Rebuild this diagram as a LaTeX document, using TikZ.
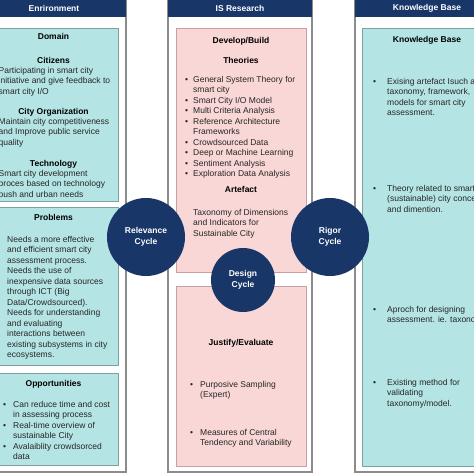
\documentclass[tikz,border=0pt]{standalone}
\usepackage{fontspec}
\setmainfont{Liberation Sans}
\usetikzlibrary{positioning}
\definecolor{navyblue}{RGB}{24, 54, 104}
\definecolor{tealfill}{RGB}{181, 228, 228}
\definecolor{tealline}{RGB}{125, 160, 160}
\definecolor{pinkfill}{RGB}{249, 215, 214}
\definecolor{pinkline}{RGB}{200, 160, 160}
\definecolor{colline}{RGB}{140, 140, 140}
\newcommand{\bulletmark}[1][8pt]{\makebox[#1][l]{\textbullet}}
\newcommand{\bulletgap}[1][8pt]{\hspace*{#1}}

\begin{document}
\begin{tikzpicture}[x=1pt, y=-1pt, font=\fontsize{8.5}{10.5}\selectfont,
  column/.style={draw=colline, line width=1.3pt, rectangle, minimum width=144pt, minimum height=472pt, inner sep=0pt},
  header/.style={fill=navyblue, text=white, font=\fontsize{8.5}{10.5}\selectfont\bfseries, minimum width=144pt, minimum height=17pt, inner sep=0pt},
  tealbox/.style={draw=tealline, fill=tealfill, line width=0.8pt, rectangle, inner sep=0pt},
  pinkbox/.style={draw=pinkline, fill=pinkfill, line width=0.8pt, rectangle, inner sep=0pt},
  cycle/.style={circle, fill=navyblue, text=white, font=\fontsize{8.5}{10.5}\selectfont\bfseries, align=center, inner sep=0pt},
  title/.style={anchor=base, font=\fontsize{8.5}{10.5}\selectfont\bfseries, inner sep=0pt},
  body/.style={anchor=north west, yshift=6.2pt, align=left, inner sep=0pt, text=black!85}]
\useasboundingbox (0,0) rectangle (474,474);
\clip (0,0) rectangle (474,474);

% columns
\node[column] (envcol) at (54,236) {};
\node[column] (iscol) at (240,236) {};
\node[column] (kbcol) at (427,236) {};
\node[header] (envhead) at (54,8.5) {Enrironment};
\node[header] (ishead) at (240,8.5) {IS Research};
\node[header] (kbhead) at (427,8.5) {Knowledge Base};

% environment
\node[tealbox, minimum width=129pt, minimum height=173pt] (domain) at (53.5,114.5) {};
\node[tealbox, minimum width=129pt, minimum height=158pt] (problems) at (53.5,286) {};
\node[tealbox, minimum width=129pt, minimum height=92pt] (opps) at (53.5,419) {};
\node[title] (domaint) at (53.5,39) {Domain};
\node[title] (citizt) at (53.5,63) {Citizens};
\node[body] (citiz) at (-1.5,73) {Participating in smart city\\initiative and give feedback to\\smart city I/O};
\node[title] (orgt) at (53.5,114) {City Organization};
\node[body] (org) at (-1.5,124) {Maintain city competitiveness\\and Improve public service\\quality};
\node[title] (techt) at (53.5,166) {Technology};
\node[body] (tech) at (-1.5,176) {Smart city development\\proces based on technology\\push and urban needs};
\node[title] (probt) at (53.5,220) {Problems};
\node[body] (prob) at (7,242) {Needs a more effective\\and efficient smart city\\assessment process.\\Needs the use of\\inexpensive data sources\\through ICT (Big\\Data/Crowdsourced).\\Needs for understanding\\and evaluating\\interactions between\\existing subsystems in city\\ecosystems.};
\node[title] (oppst) at (53.5,386) {Opportunities};
\node[body] (oppl) at (3,407) {\bulletmark[10pt]Can reduce time and cost\\\bulletgap[10pt]in assessing process\\\bulletmark[10pt]Real-time overview of\\\bulletgap[10pt]sustainable City\\\bulletmark[10pt]Avalaiblity crowdsorced\\\bulletgap[10pt]data};

% IS research
\node[pinkbox, minimum width=130pt, minimum height=244pt] (develop) at (241,150) {};
\node[pinkbox, minimum width=130pt, minimum height=180pt] (justify) at (241,376) {};
\node[title] (developt) at (241,43) {Develop/Build};
\node[title] (theot) at (241,63) {Theories};
\node[body] (theo) at (185,82) {\bulletmark General System Theory for\\\bulletgap smart city\\\bulletmark Smart City I/O Model\\\bulletmark Multi Criteria Analysis\\\bulletmark Reference Architecture\\\bulletgap Frameworks\\\bulletmark Crowdsourced Data\\\bulletmark Deep or Machine Learning\\\bulletmark Sentiment Analysis\\\bulletmark Exploration Data Analysis};
\node[title] (artt) at (241,192) {Artefact};
\node[body] (art) at (193,215) {Taxonomy of Dimensions\\and Indicators for\\Sustainable City};
\node[title] (justifyt) at (241,345) {Justify/Evaluate};
\node[body] (samp) at (190,387) {\bulletmark[10pt]Purposive Sampling\\\bulletgap[10pt](Expert)};
\node[body] (meas) at (190,435) {\bulletmark[10pt]Measures of Central\\\bulletgap[10pt]Tendency and Variability};

% knowledge base
\node[tealbox, minimum width=130pt, minimum height=438pt] (kb) at (427,247) {};
\node[title] (kbt) at (427,42) {Knowledge Base};
\node[body] (kba) at (373,84) {\bulletmark[14pt]Exising artefact Isuch as\\\bulletgap[14pt]taxonomy, framework,\\\bulletgap[14pt]models for smart city\\\bulletgap[14pt]assessment.};
\node[body] (kbb) at (373,191) {\bulletmark[14pt]Theory related to smart\\\bulletgap[14pt](sustainable) city concept\\\bulletgap[14pt]and dimention.};
\node[body] (kbc) at (373,312) {\bulletmark[14pt]Aproch for designing\\\bulletgap[14pt]assessment. ie. taxonomy};
\node[body] (kbd) at (373,385) {\bulletmark[14pt]Existing method for\\\bulletgap[14pt]validating\\\bulletgap[14pt]taxonomy/model.};

% cycles
\node[cycle, minimum size=78pt] (relevance) at (146,237) {Relevance\\Cycle};
\node[cycle, minimum size=78pt] (rigor) at (330,237) {Rigor\\Cycle};
\node[cycle, minimum size=64pt] (design) at (243,280) {Design\\Cycle};
\end{tikzpicture}
\end{document}
